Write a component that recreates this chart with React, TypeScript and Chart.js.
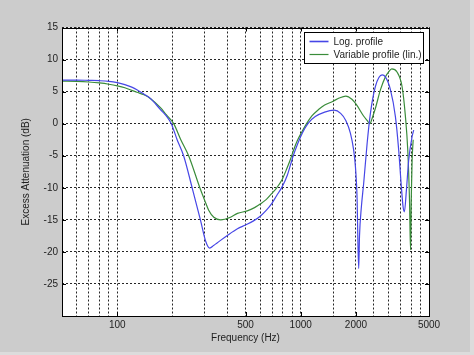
import React, { useEffect, useRef } from 'react';
import { Chart, registerables } from 'chart.js';

Chart.register(...registerables);

// ---- data ----
const freqLog = [50, 60, 70, 80, 90, 100, 110, 120, 128, 140, 152, 172, 185, 197, 212, 230, 256, 284, 303, 319, 335, 350, 400, 452, 500, 550, 604, 650, 690, 740, 790, 846, 880, 910, 960, 1000, 1050, 1100, 1200, 1350, 1520, 1650, 1760, 1866, 1940, 1986, 2029, 2050, 2070, 2090, 2140, 2203, 2300, 2397, 2552, 2776, 2893, 3081, 3280, 3418, 3523, 3613, 3672, 3765, 3875, 4045, 4127];
const valuesLog = [6.8, 6.8, 6.75, 6.7, 6.6, 6.4, 6.1, 5.7, 5.3, 4.6, 3.9, 2.2, 1.2, 0.0, -2.5, -5.0, -10.0, -15.0, -18.3, -19.4, -19.0, -18.6, -17.4, -16.4, -15.8, -15.2, -14.4, -13.5, -12.6, -11.2, -9.9, -8.0, -6.4, -5.0, -3.2, -2.0, -0.8, 0.1, 1.1, 1.8, 2.1, 1.6, 0.5, -1.5, -4.0, -6.7, -11.9, -18.7, -22.6, -17.6, -13.0, -9.3, -3.1, 1.6, 5.8, 7.6, 7.3, 5.3, 1.1, -4.1, -9.3, -13.0, -13.75, -10.4, -5.7, -2.0, -1.0];

const freqVar = [50, 60, 70, 80, 90, 100, 110, 120, 128, 140, 152, 172, 185, 203, 222, 245, 282, 300, 315, 336, 366, 414, 452, 511, 560, 604, 650, 690, 740, 792, 840, 880, 920, 960, 1000, 1076, 1150, 1250, 1350, 1500, 1620, 1760, 1900, 2029, 2200, 2300, 2380, 2460, 2552, 2720, 2893, 3000, 3134, 3340, 3565, 3720, 3830, 3915, 3965, 4000, 4045, 4100];
const valuesVar = [6.65, 6.6, 6.5, 6.35, 6.15, 5.9, 5.6, 5.2, 4.9, 4.5, 3.9, 2.5, 1.4, 0.0, -2.5, -5.0, -10.0, -12.0, -13.5, -14.6, -15.0, -14.6, -14.0, -13.6, -13.1, -12.5, -11.8, -11.0, -10.0, -8.7, -7.0, -5.5, -3.9, -2.6, -1.6, 0.0, 1.2, 2.2, 2.9, 3.5, 4.0, 4.3, 3.8, 2.8, 1.2, 0.5, 0.0, 1.0, 2.4, 5.3, 7.3, 8.0, 8.55, 8.1, 5.8, 1.1, -4.1, -11.9, -19.7, -12.0, -5.7, -2.5];

const seriesLabels = ['Log. profile', 'Variable profile (lin.)'];
const seriesColors = ['#4646e6', '#3a8c3a'];

const xGridTicks = [60, 70, 80, 90, 100, 200, 300, 400, 500, 600, 700, 800, 900, 1000, 1500, 2000, 2500, 3000, 3500, 4000, 4500, 5000];
const xLabelTicks = [100, 500, 1000, 2000, 5000];
const xMin = 50;
const xMax = 5000;
const yMin = -30;
const yMax = 15;
const yStep = 5;

const xTitle = 'Frequency (Hz)';
const yTitle = 'Excess Attenuation (dB)';

const FONT = "'Liberation Sans', Arial, Helvetica, sans-serif";
const TEXT = '#1e1e1e';

const plotBgPlugin = {
  id: 'plotBg',
  beforeDraw(chart: any) {
    const { ctx, chartArea: a } = chart;
    ctx.save();
    ctx.fillStyle = '#ffffff';
    ctx.fillRect(a.left, a.top, a.right - a.left, a.bottom - a.top);
    ctx.restore();
  },
};

const framePlugin = {
  id: 'frame',
  afterDatasetsDraw(chart: any) {
    const { ctx, chartArea: a, scales } = chart;
    const x = scales.x;
    const y = scales.y;
    ctx.save();
    ctx.strokeStyle = '#000';
    ctx.lineWidth = 1;
    ctx.setLineDash([]);
    ctx.beginPath();
    for (const v of xLabelTicks) {
      const px = Math.round(x.getPixelForValue(v)) + 0.5;
      ctx.moveTo(px, a.bottom);
      ctx.lineTo(px, a.bottom - 4);
      ctx.moveTo(px, a.top);
      ctx.lineTo(px, a.top + 4);
    }
    for (const t of y.ticks) {
      const py = Math.round(y.getPixelForValue(t.value)) + 0.5;
      ctx.moveTo(a.left, py);
      ctx.lineTo(a.left + 4, py);
      ctx.moveTo(a.right, py);
      ctx.lineTo(a.right - 4, py);
    }
    ctx.stroke();
    const l = Math.round(a.left) + 0.5;
    const t = Math.round(a.top) + 0.5;
    const r = Math.round(a.right) + 0.5;
    const b = Math.round(a.bottom) + 0.5;
    ctx.strokeRect(l, t, r - l, b - t);
    ctx.restore();
  },
};

const legendPlugin = {
  id: 'boxLegend',
  afterDraw(chart: any) {
    const { ctx, chartArea: a } = chart;
    const w = 119;
    const h = 31;
    const left = Math.round(a.right - 6.5 - w) + 0.5;
    const top = Math.round(a.top + 4.5) + 0.5;
    ctx.save();
    ctx.fillStyle = '#ffffff';
    ctx.fillRect(left, top, w, h);
    ctx.strokeStyle = '#000';
    ctx.lineWidth = 1;
    ctx.strokeRect(left, top, w, h);
    ctx.font = `10px ${FONT}`;
    ctx.textBaseline = 'middle';
    ctx.textAlign = 'left';
    chart.data.datasets.forEach((ds: any, i: number) => {
      const cy = top + 9 + i * 13;
      ctx.strokeStyle = ds.borderColor;
      ctx.lineWidth = i === 0 ? 1.6 : 1.2;
      ctx.beginPath();
      ctx.moveTo(left + 5, cy);
      ctx.lineTo(left + 24, cy);
      ctx.stroke();
      ctx.fillStyle = TEXT;
      ctx.fillText(ds.label, left + 29, cy + 0.5);
    });
    ctx.restore();
  },
};

export default function App() {
  const canvasRef = useRef<HTMLCanvasElement | null>(null);

  useEffect(() => {
    if (!canvasRef.current) return;
    Chart.defaults.font.family = FONT;
    Chart.defaults.font.size = 10;
    Chart.defaults.color = TEXT;

    const chart = new Chart(canvasRef.current, {
      type: 'line',
      data: {
        datasets: [
          {
            label: seriesLabels[0],
            data: freqLog.map((f, i) => ({ x: f, y: valuesLog[i] })),
            borderColor: seriesColors[0],
            borderWidth: 1.2,
            pointRadius: 0,
            fill: false,
            cubicInterpolationMode: 'monotone',
          },
          {
            label: seriesLabels[1],
            data: freqVar.map((f, i) => ({ x: f, y: valuesVar[i] })),
            borderColor: seriesColors[1],
            borderWidth: 1.2,
            pointRadius: 0,
            fill: false,
            cubicInterpolationMode: 'monotone',
          },
        ],
      },
      options: {
        animation: false,
        responsive: true,
        maintainAspectRatio: false,
        layout: { padding: { top: 27.5, right: 45, bottom: 0, left: 0 } },
        plugins: {
          legend: { display: false },
          tooltip: { enabled: false },
        },
        scales: {
          x: {
            type: 'logarithmic',
            min: xMin,
            max: xMax,
            afterBuildTicks: (scale: any) => {
              scale.ticks = xGridTicks.map((v) => ({ value: v }));
            },
            afterFit: (scale: any) => {
              scale.height = 39;
            },
            ticks: {
              autoSkip: false,
              maxRotation: 0,
              minRotation: 0,
              padding: 3,
              color: TEXT,
              font: { size: 10, family: FONT },
              callback: (v: any) => (xLabelTicks.includes(Number(v)) ? String(v) : ''),
            },
            grid: {
              color: 'rgba(0,0,0,0.85)',
              lineWidth: 1,
              drawTicks: false,
            },
            border: { display: false, dash: [2, 2] },
            title: {
              display: true,
              text: xTitle,
              color: TEXT,
              font: { size: 10, family: FONT },
              padding: { top: 0, bottom: 11 },
            },
          },
          y: {
            type: 'linear',
            min: yMin,
            max: yMax,
            afterFit: (scale: any) => {
              scale.width = 62;
            },
            ticks: {
              stepSize: yStep,
              padding: 4,
              color: TEXT,
              font: { size: 10, family: FONT },
              callback: (v: any) => (Number(v) === yMin ? '' : String(v)),
            },
            grid: {
              color: 'rgba(0,0,0,0.85)',
              lineWidth: 1,
              drawTicks: false,
            },
            border: { display: false, dash: [2, 2] },
            title: {
              display: true,
              text: yTitle,
              color: TEXT,
              font: { size: 10, family: FONT },
              padding: { top: 20, bottom: 0 },
            },
          },
        },
      },
      plugins: [plotBgPlugin, framePlugin, legendPlugin],
    } as any);

    return () => chart.destroy();
  }, []);

  return (
    <div
      style={{
        position: 'absolute',
        left: 0,
        top: 0,
        width: 474,
        height: 355,
        background: '#cccccc',
        boxSizing: 'border-box',
        borderRight: '4px solid #dcdcdc',
        borderBottom: '3px solid #dcdcdc',
      }}
    >
      <div style={{ position: 'absolute', left: 0, top: 0, width: 474, height: 355 }}>
        <canvas ref={canvasRef} />
      </div>
    </div>
  );
}
